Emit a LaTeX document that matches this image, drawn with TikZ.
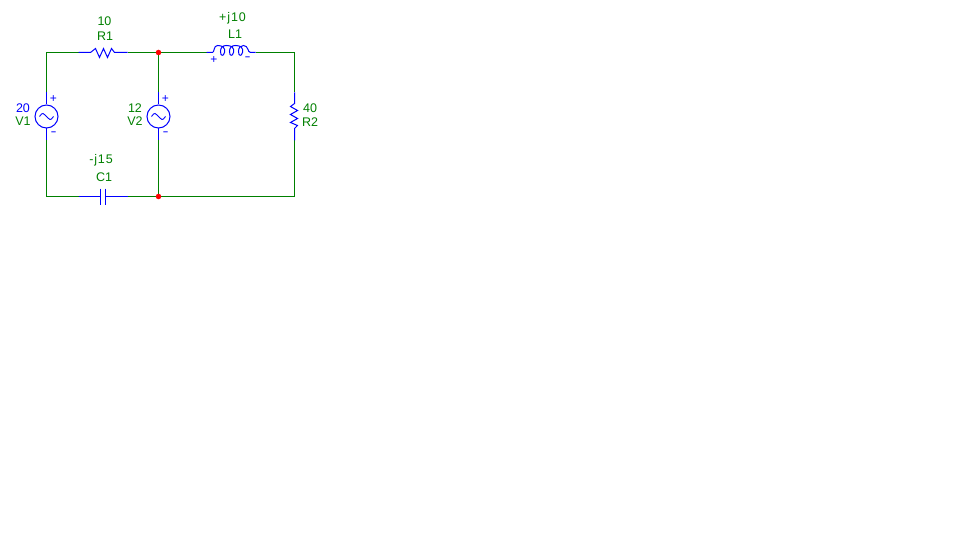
\documentclass[tikz,border=0pt]{standalone}
\usepackage{fontspec}
\usetikzlibrary{backgrounds}
\setmainfont{Liberation Sans}
\definecolor{wire}{RGB}{0,128,0}
\definecolor{part}{RGB}{0,0,255}
\definecolor{dot}{RGB}{255,0,0}
\tikzset{
 x=1pt,y=-1pt,
 wireline/.style={draw=wire,line width=1pt},
 partline/.style={draw=part,line width=1pt,line join=miter},
 lab/.style={text=wire,inner sep=0pt,font=\fontsize{12.5pt}{14pt}\selectfont},
 widelab/.style={lab,font=\fontsize{12.5pt}{14pt}\selectfont\addfontfeature{LetterSpace=7}},
 blab/.style={lab,text=part},
 sign/.style={text=part,inner sep=0pt,font=\fontsize{12pt}{12pt}\selectfont},
 junction/.style={circle,fill=dot,inner sep=0pt,minimum size=5.5pt},
 source/.style={circle,draw=part,line width=1pt,inner sep=0pt,minimum size=23pt}
}
\begin{document}
\begin{tikzpicture}
\useasboundingbox (0,0) rectangle (960,540);
\begin{scope}[shift={(0.5,0.5)}]
% corners and terminals
\coordinate (tl) at (46,52);\coordinate (bl) at (46,196);
\coordinate (tr) at (294,52);\coordinate (br) at (294,196);
\coordinate (r1a) at (78,52);\coordinate (r1b) at (127,52);
\coordinate (l1a) at (206,52);\coordinate (l1b) at (255,52);
\coordinate (c1a) at (78,196);\coordinate (c1b) at (127,196);
\coordinate (r2a) at (294,92);\coordinate (r2b) at (294,140);
\coordinate (v1a) at (46,92);\coordinate (v1b) at (46,140);
\coordinate (v2a) at (158,92);\coordinate (v2b) at (158,140);
\node[junction] (n1) at (158,52) {};
\node[junction] (n2) at (158,196) {};
\node[source] (v1) at (46,116) {};
\node[source] (v2) at (158,116) {};
% wires
\begin{pgfonlayer}{background}
\fill[white] (-1,-1) rectangle (960,540);
\draw[wireline] (v1a) -- (tl) -- (r1a);
\draw[wireline] (r1b) -- (n1.center) -- (l1a);
\draw[wireline] (l1b) -- (tr) -- (r2a);
\draw[wireline] (r2b) -- (br) -- (n2.center) -- (c1b);
\draw[wireline] (c1a) -- (bl) -- (v1b);
\draw[wireline] (n1.center) -- (v2a);
\draw[wireline] (v2b) -- (n2.center);
\end{pgfonlayer}
% sources
\draw[partline] (v1a) -- (v1.north);
\draw[partline] (v1.south) -- (v1b);
\draw[partline] (v2a) -- (v2.north);
\draw[partline] (v2.south) -- (v2b);
\foreach \c in {v1,v2}{
 \draw[partline,line width=.9pt] ([xshift=-7pt]\c.center) .. controls +(3.5,-5) and +(-3.5,-3) .. (\c.center) .. controls +(3.5,3) and +(-3.5,5) .. ([xshift=7pt]\c.center);
}
% R1
\draw[partline] (r1a) -- (90,52) -- (95,48) -- (99,57) -- (103,48) -- (107,57) -- (111,48) -- (114,52) -- (r1b);
% R2
\draw[partline] (r2a) -- (294,103) -- (290,106) -- (297,110) -- (290,114) -- (297,118) -- (290,122) -- (297,125) -- (294,128) -- (r2b);
% C1
\draw[partline] (c1a) -- (100,196);
\draw[partline] (105,196) -- (c1b);
\draw[partline] (100,188) -- (100,204);
\draw[partline] (105,188) -- (105,204);
% L1
\draw[partline] (l1a) -- (212,52) .. controls (214,52) and (213,45) .. (217,45)
 .. controls (222,45) and (225,47) .. (224,52) .. controls (223,56) and (220,56) .. (220,51)
 .. controls (220,47) and (222,45) .. (226,45)
 .. controls (231,45) and (234,47) .. (233,52) .. controls (232,56) and (229,56) .. (229,51)
 .. controls (229,47) and (231,45) .. (235,45)
 .. controls (240,45) and (243,47) .. (242,52) .. controls (241,56) and (238,56) .. (238,51)
 .. controls (238,47) and (240,45) .. (243,45)
 .. controls (248,45) and (247,52) .. (250,52) -- (l1b);
% signs
\node[sign] (p1) at (53,99) {+};
\node[sign] (m1) at (53,133) {\scalebox{1.5}[1]{-}};
\node[sign] (p2) at (165,99) {+};
\node[sign] (m2) at (165,133) {\scalebox{1.5}[1]{-}};
\node[sign] (p3) at (213.5,59.5) {+};
\node[sign] (m3) at (247,58) {\scalebox{1.5}[1]{-}};
% labels
\node[lab] (t1) at (104,21) {10};
\node[lab] (t2) at (104.5,36) {R1};
\node[widelab] (t3) at (232,18) {+j10};
\node[lab] (t4) at (234.5,34) {L1};
\node[blab] (t5) at (22.5,108) {20};
\node[lab] (t6) at (22.5,121) {V1};
\node[lab] (t7) at (134.5,108) {12};
\node[lab] (t8) at (134.5,121) {V2};
\node[lab] (t9) at (309.5,108) {40};
\node[lab] (t10) at (309.5,122) {R2};
\node[widelab] (t11) at (100.5,160) {-j15};
\node[lab] (t12) at (103.5,177) {C1};
\end{scope}
\end{tikzpicture}
\end{document}
